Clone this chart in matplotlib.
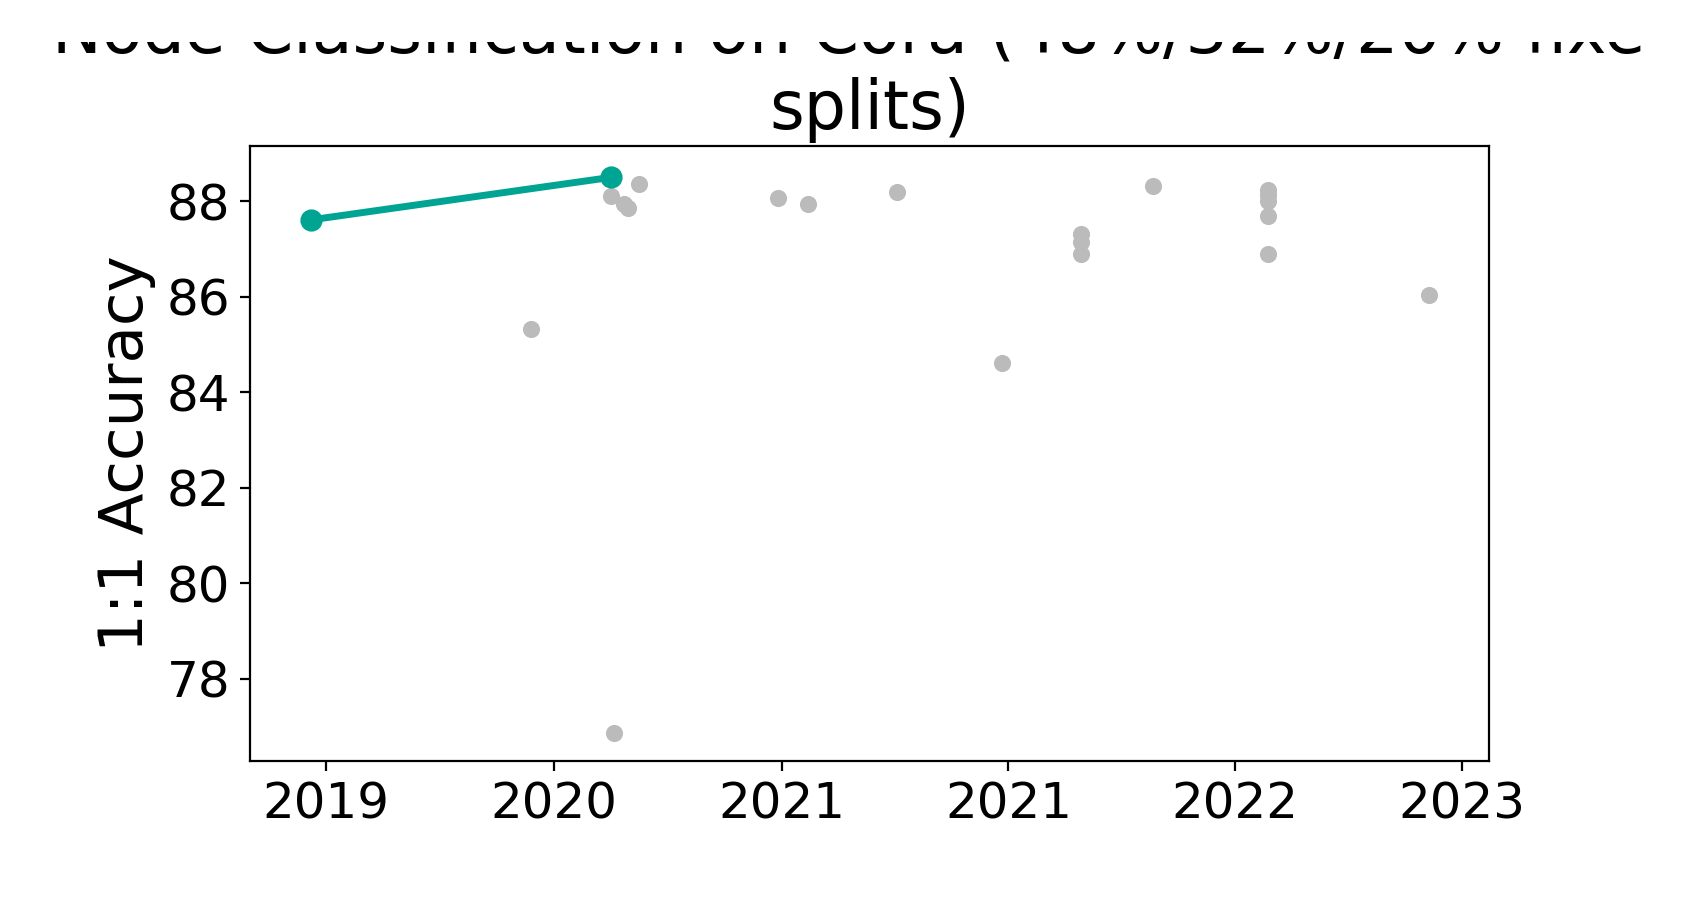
import numpy as np
import pandas as pd
import matplotlib
matplotlib.use("Agg")
import matplotlib.pyplot as plt
import matplotlib.dates as mdates
from matplotlib.transforms import Bbox, TransformedBbox

# ---- data ----
sota_dates = ["2019-06-13", "2020-06-09"]
sota_acc = [87.61, 88.50]

other_dates = [
    "2020-06-09", "2020-06-12", "2020-06-24", "2020-06-29", "2020-07-12",
    "2020-03-04", "2020-12-27", "2021-02-01", "2021-05-20", "2021-09-23",
    "2021-12-28", "2021-12-28", "2021-12-28", "2022-03-25",
    "2022-08-10", "2022-08-10", "2022-08-10", "2022-08-10", "2022-08-10",
    "2023-02-20",
]
other_acc = [
    88.11, 76.87, 87.95, 87.86, 88.37,
    85.33, 88.06, 87.95, 88.20, 84.61,
    87.32, 87.14, 86.89, 88.32,
    88.24, 88.12, 88.01, 87.68, 86.89,
    86.03,
]

tick_dates = ["2019-07-01", "2020-04-01", "2021-01-01", "2021-10-01", "2022-07-01", "2023-04-01"]
x_range = ["2019-03-31", "2023-05-04"]
y_range = (76.27, 89.16)

title = "Node Classification on Cora (48%/32%/20% fixed\nsplits)"
ylabel = "1:1 Accuracy"

teal = "#00a493"
grey = "#bbbbbb"

fig, ax = plt.subplots(figsize=(8.5, 4.5), dpi=200)
fig.subplots_adjust(left=0.147, right=0.876, bottom=0.154, top=0.838)

ax.scatter(pd.to_datetime(other_dates), other_acc, s=38, color=grey, zorder=2, linewidths=0)
ax.plot(pd.to_datetime(sota_dates), sota_acc, color=teal, lw=2.5,
        marker="o", markersize=7, zorder=3)

ax.set_xlim(pd.to_datetime(x_range))
ax.set_ylim(*y_range)
ax.set_xticks(pd.to_datetime(tick_dates))
ax.xaxis.set_major_formatter(mdates.DateFormatter("%Y"))
ax.set_yticks([78, 80, 82, 84, 86, 88])
ax.tick_params(labelsize=18)

ax.set_ylabel(ylabel, fontsize=22)
t = ax.set_title(title, fontsize=24)
# the reference shows the title cut at the top strip and just before the last "d"
t.set_clip_box(TransformedBbox(Bbox([[0, 0], [1644 / 1700, 1 - 42 / 900]]), fig.transFigure))
t.set_clip_on(True)

fig.savefig("out.png", dpi=200)
